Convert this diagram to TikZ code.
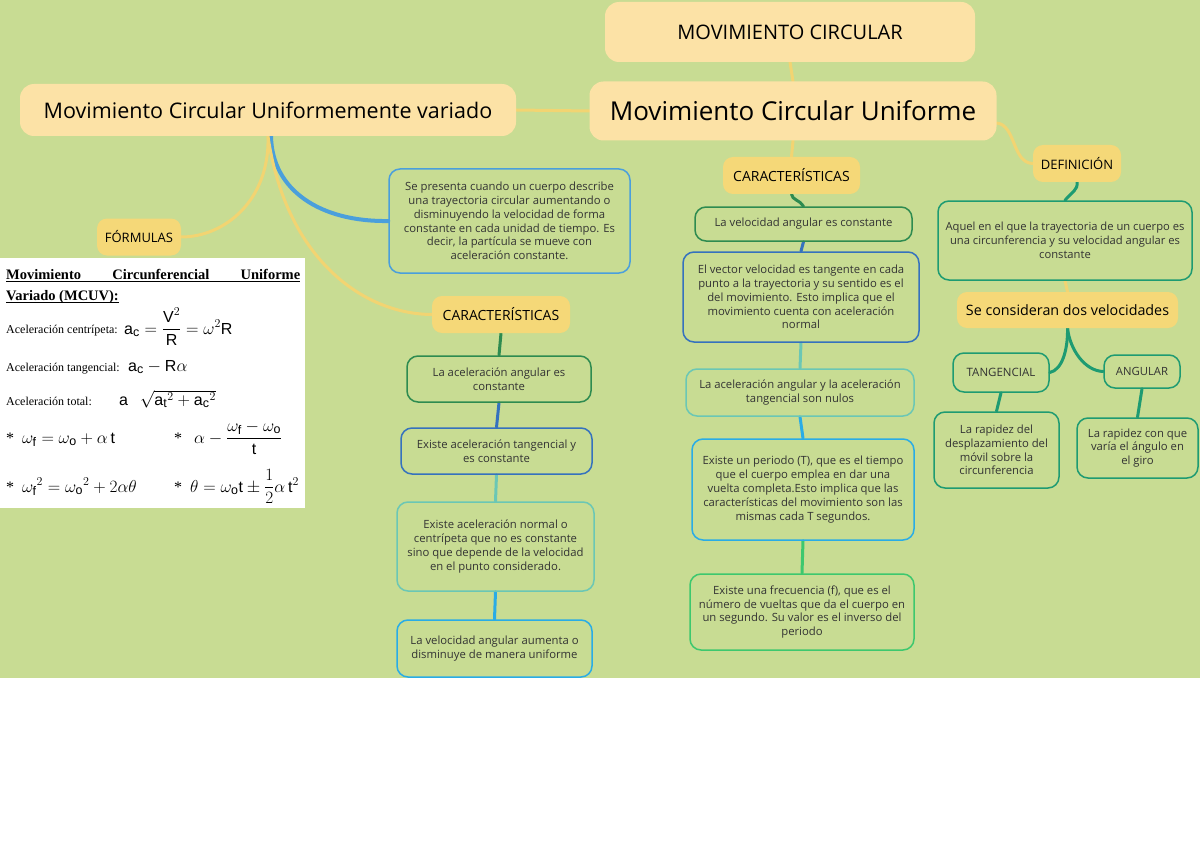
\documentclass[tikz,border=0pt]{standalone}
\usepackage{amsmath}
\usepackage{fontspec}
\setmainfont{Liberation Serif}
\setsansfont{Liberation Sans}
\newfontfamily\hand{Open Sans}
\DeclareMathSizes{16}{16}{12.5}{10}
\newcommand{\sv}[1]{\textsf{#1}}
\definecolor{bggreen}{HTML}{C8DC93}
\definecolor{lightyel}{HTML}{FCE2A6}
\definecolor{darkyel}{HTML}{F5D878}
\definecolor{yel}{HTML}{F2D472}
\definecolor{cgreen}{HTML}{2E8B50}
\definecolor{cblue}{HTML}{3572BE}
\definecolor{cteal}{HTML}{6BC7B5}
\definecolor{cbright}{HTML}{29ACE6}
\definecolor{cgreentwo}{HTML}{3DC86E}
\definecolor{cdef}{HTML}{1E9B72}
\definecolor{descblue}{HTML}{4A9FDC}
\definecolor{txt}{HTML}{333333}
\pgfdeclarelayer{bglayer}
\pgfdeclarelayer{connlayer}
\pgfsetlayers{bglayer,connlayer,main}
\begin{document}
\begin{tikzpicture}[x=1pt,y=-1pt,
  titlebox/.style={fill=lightyel, rounded corners=14pt, inner sep=0pt, font=\hand, text=black},
  tagbox/.style={fill=darkyel, rounded corners=10pt, inner sep=0pt, font=\hand\fontsize{13}{15}\selectfont, text=black},
  infobox/.style={draw, line width=1.5pt, rounded corners=11pt, inner sep=0pt, align=center, font=\hand\fontsize{11.3}{13.8}\selectfont, text=txt},
  link/.style={line width=3pt, line cap=round},
  ftext/.style={anchor=base west, inner sep=0pt, font=\fontsize{12}{14}\selectfont},
  fmath/.style={anchor=base west, inner sep=0pt, font=\fontsize{16}{18}\selectfont},
]
\useasboundingbox (0,0) rectangle (1200,848);
\begin{pgfonlayer}{bglayer}
\fill[white] (0,0) rectangle (1200,848);
\fill[bggreen] (0,0) rectangle (1200,678);
\end{pgfonlayer}

% titles
\node[titlebox, minimum width=370pt, minimum height=60pt, font=\hand\fontsize{20}{22}\selectfont] (mc) at (790,32) {MOVIMIENTO CIRCULAR};
\node[titlebox, minimum width=407pt, minimum height=59pt, font=\hand\fontsize{26}{28}\selectfont] (mcu) at (793,111) {Movimiento Circular Uniforme};
\node[titlebox, minimum width=496pt, minimum height=52pt, font=\hand\fontsize{21.5}{23}\selectfont] (mcuv) at (268,110) {Movimiento Circular Uniformemente variado};

% left branch
\node[tagbox, minimum width=84pt, minimum height=37pt] (form) at (139,237) {FÓRMULAS};
\node[infobox, draw=descblue, minimum width=241pt, minimum height=104pt] (desc) at (509.5,221) {Se presenta cuando un cuerpo describe\\ una trayectoria circular aumentando o\\ disminuyendo la velocidad de forma\\ constante en cada unidad de tiempo. Es\\ decir, la partícula se mueve con\\ aceleración constante.};
\node[tagbox, minimum width=138pt, minimum height=37pt, font=\hand\fontsize{14}{16}\selectfont] (carl) at (501,314.5) {CARACTERÍSTICAS};
\node[infobox, draw=cgreen, minimum width=184pt, minimum height=46pt] (b1) at (499,379) {La aceleración angular es\\ constante};
\node[infobox, draw=cblue, minimum width=191pt, minimum height=46pt] (b2) at (496.5,451) {Existe aceleración tangencial y\\ es constante};
\node[infobox, draw=cteal, minimum width=197pt, minimum height=89pt] (b3) at (495.5,546.5) {Existe aceleración normal o\\ centrípeta que no es constante\\ sino que depende de la velocidad\\ en el punto considerado.};
\node[infobox, draw=cbright, minimum width=195pt, minimum height=57pt] (b4) at (494.5,648.5) {La velocidad angular aumenta o\\ disminuye de manera uniforme};

% middle branch
\node[tagbox, minimum width=137pt, minimum height=37pt, font=\hand\fontsize{14}{16}\selectfont] (carr) at (791.5,175.5) {CARACTERÍSTICAS};
\node[infobox, draw=cgreen, minimum width=217pt, minimum height=34pt] (r1) at (803.5,224) {La velocidad angular es constante};
\node[infobox, draw=cblue, minimum width=236pt, minimum height=90pt] (r2) at (801,297) {El vector velocidad es tangente en cada\\ punto a la trayectoria y su sentido es el\\ del movimiento. Esto implica que el\\ movimiento cuenta con aceleración\\ normal};
\node[infobox, draw=cteal, minimum width=228pt, minimum height=47pt] (r3) at (800,392.5) {La aceleración angular y la aceleración\\ tangencial son nulos};
\node[infobox, draw=cbright, minimum width=222pt, minimum height=101pt] (r4) at (803,489.5) {Existe un periodo (T), que es el tiempo\\ que el cuerpo emplea en dar una\\ vuelta completa.Esto implica que las\\ características del movimiento son las\\ mismas cada T segundos.};
\node[infobox, draw=cgreentwo, minimum width=224pt, minimum height=76pt] (r5) at (802,612) {Existe una frecuencia (f), que es el\\ número de vueltas que da el cuerpo en\\ un segundo. Su valor es el inverso del\\ periodo};

% right branch
\node[tagbox, minimum width=88pt, minimum height=37pt] (def) at (1077,163.5) {DEFINICIÓN};
\node[infobox, draw=cdef, minimum width=254pt, minimum height=79pt, font=\hand\fontsize{11.2}{13.8}\selectfont] (aq) at (1065,240.5) {Aquel en el que la trayectoria de un cuerpo es\\ una circunferencia y su velocidad angular es\\ constante};
\node[tagbox, minimum width=221pt, minimum height=36pt, font=\hand\fontsize{14.3}{16}\selectfont] (sc) at (1067.5,310) {Se consideran dos velocidades};
\node[infobox, draw=cdef, minimum width=96pt, minimum height=39pt, font=\hand\fontsize{11.5}{13}\selectfont] (tan) at (1001,372.5) {TANGENCIAL};
\node[infobox, draw=cdef, minimum width=76pt, minimum height=33pt, font=\hand\fontsize{11.3}{13}\selectfont] (ang) at (1142,371.5) {ANGULAR};
\node[infobox, draw=cdef, minimum width=125pt, minimum height=76pt] (tb) at (996.5,450) {La rapidez del\\ desplazamiento del\\ móvil sobre la\\ circunferencia};
\node[infobox, draw=cdef, minimum width=121pt, minimum height=60pt] (ab) at (1137.5,448) {La rapidez con que\\ varía el ángulo en\\ el giro};

% formula box
\node[fill=white, anchor=north west, minimum width=305pt, minimum height=250pt, inner sep=0pt] (fbox) at (0,258) {};
\node[ftext, font=\bfseries\fontsize{14.5}{16}\selectfont] (f1) at (6,279) {\makebox[294pt][l]{Movimiento\hfill Circunferencial\hfill Uniforme}};
\draw[line width=1pt] ([yshift=-2.5pt]f1.base west) -- ([yshift=-2.5pt]f1.base east);
\node[ftext, font=\bfseries\fontsize{14.5}{16}\selectfont] (f2) at (6,300) {Variado (MCUV):};
\draw[line width=1pt] ([yshift=-2.5pt]f2.base west) -- ([yshift=-2.5pt]f2.base east);
\node[ftext] (f3) at (6,333) {Aceleración centrípeta:};
\node[fmath] (f3m) at (124,334) {$\sv{a}_{\sv{c}} = \dfrac{\sv{V}^{2}}{\sv{R}} = \omega^{2}\sv{R}$};
\node[ftext] (f4) at (6,371) {Aceleración tangencial:};
\node[fmath] (f4m) at (128,371) {$\sv{a}_{\sv{c}} - \sv{R}\alpha$};
\node[ftext] (f5) at (6,405) {Aceleración total:};
\node[fmath] (f5m) at (119,405) {$\sv{a}\ \ \ \sqrt{\sv{a}_{\sv{t}}{}^{2}+\sv{a}_{\sv{c}}{}^{2}}$};
\node[fmath] (f6) at (6,443) {*\ \ $\omega_{\sv{f}} = \omega_{\sv{o}} + \alpha\,\sv{t}$};
\node[fmath] (f7) at (174,443) {*\ \ \ $\alpha - \dfrac{\omega_{\sv{f}}-\omega_{\sv{o}}}{\sv{t}}$};
\node[fmath] (f8) at (6,492) {*\ \ $\omega_{\sv{f}}{}^{2} = \omega_{\sv{o}}{}^{2} + 2\alpha\theta$};
\node[fmath] (f9) at (174,492) {*\ \ $\theta = \omega_{\sv{o}}\sv{t} \pm \dfrac{1}{2}\alpha\,\sv{t}^{2}$};

% connectors
\begin{pgfonlayer}{connlayer}
\draw[link, yel] (mc.south) -- (mcu.north);
\draw[link, yel] (mcu.west) -- (mcuv.east);
\draw[link, yel] (mcu.south) -- (carr.north);
\draw[link, yel] ([yshift=-12pt]mcu.east) .. controls (1016,125) and (1012,163) .. (def.west);
\draw[link, yel] (mcuv.south) .. controls (270,200) and (225,237) .. (form.east);
\draw[link, descblue, line width=4pt] ([xshift=3pt]mcuv.south) .. controls (272,190) and (320,222) .. (desc.west);
\draw[link, yel] (mcuv.south) .. controls (285,255) and (360,314) .. (carl.west);
\draw[link, cgreen] (carl.south) -- (b1.north);
\draw[link, cblue] (b1.south) -- (b2.north);
\draw[link, cteal] (b2.south) -- (b3.north);
\draw[link, cbright] (b3.south) -- (b4.north);
\draw[link, cgreen] (carr.south) .. controls (792,200) and (800,200) .. (r1.north);
\draw[link, cblue] (r1.south) -- (r2.north);
\draw[link, cteal] (r2.south) -- (r3.north);
\draw[link, cbright] (r3.south) -- (r4.north);
\draw[link, cgreentwo] (r4.south) -- (r5.north);
\draw[link, cdef] (def.south) .. controls (1078,190) and (1072,192) .. (aq.north);
\draw[link, yel] (aq.south) -- (sc.north);
\draw[link, cdef] (sc.south) .. controls (1068,350) and (1062,370) .. (tan.east);
\draw[link, cdef] (sc.south) .. controls (1070,350) and (1085,371) .. (ang.west);
\draw[link, cdef] (tan.south) -- (tb.north);
\draw[link, cdef] (ang.south) -- (ab.north);
\end{pgfonlayer}
\end{tikzpicture}
\end{document}
